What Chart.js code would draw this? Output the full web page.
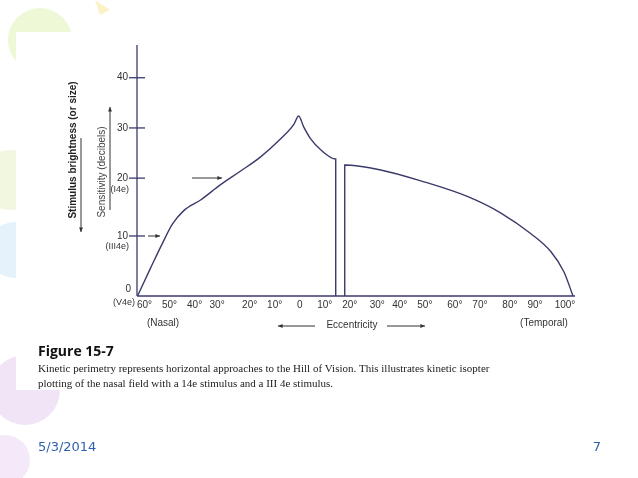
<!DOCTYPE html>
<html><head><meta charset="utf-8">
<script src="https://cdn.jsdelivr.net/npm/chart.js@4"></script>
<style>html,body{margin:0;padding:0;background:#fff}#c{display:block}</style>
</head><body>
<canvas id="c" width="638" height="478"></canvas>
<script>
const nasalX = [-64.8,-59.6,-54.8,-50.8,-46.4,-39.6,-31.6,-23.6,-15.6,-7.6,-2.4,-0.4,1.6,4.4,8.4,14.4,14.4];
const nasalY = [0,5.1,9.7,13.2,15.6,17.6,20.4,22.9,25.5,28.8,31.4,33.0,31.0,28.8,26.8,25.1,0];
const tempX = [18,18,32.4,48.4,67.2,80.4,92.4,100.4,105.6,109.2];
const tempY = [0,24,23.1,21.1,18.2,15.2,11.4,8.1,4.4,0];
const xTickPos = [-62,-52,-42,-33,-20,-10,0,10,20,31,40,50,62,72,84,94,106];
const xTickLabels = ['60°','50°','40°','30°','20°','10°','0','10°','20°','30°','40°','50°','60°','70°','80°','90°','100°'];
const yTickPos = [0,11,21.6,30.8,40];
const yTickLabels = ['0','10','20','30','40'];
const yTickSub = ['(V4e)','(III4e)','(I4e)','',''];

const ink = '#3a3a6a';
const deco = {
  id:'deco',
  beforeDraw(c){
    const g=c.ctx; g.save();
    g.fillStyle='#fff'; g.fillRect(0,0,638,478);
    const blob=(x,y,r,col)=>{g.beginPath();g.arc(x,y,r,0,Math.PI*2);g.fillStyle=col;g.fill();};
    blob(40,40,32,'#eef7d6'); blob(10,180,30,'#f2f8df'); blob(15,250,28,'#e6f2fb');
    blob(25,390,35,'#f1e4f7'); blob(5,460,25,'#f3e9f8');
    g.fillStyle='#fbf3c8'; g.beginPath();g.moveTo(95,0);g.lineTo(110,10);g.lineTo(100,15);g.fill();
    g.fillStyle='#fff'; g.fillRect(16,32,622,358);
    g.restore();
  },
  afterDraw(c){
    const g=c.ctx, x=c.scales.x, y=c.scales.y; g.save();
    const x0=x.getPixelForValue(-65), y0=y.getPixelForValue(0);
    g.strokeStyle=ink; g.lineWidth=1.3;
    g.beginPath(); g.moveTo(x0,y0); g.lineTo(x0,y.getPixelForValue(46)); g.stroke();
    g.beginPath(); g.moveTo(x0,y0); g.lineTo(x.getPixelForValue(110),y0); g.stroke();
    g.font='10px "Liberation Sans", Arial'; g.fillStyle='#333';
    yTickPos.forEach((v,i)=>{const py=y.getPixelForValue(v);
      if(i>0){g.beginPath();g.moveTo(x0-8,py);g.lineTo(x0+8,py);g.stroke();}
      g.textAlign='right'; g.textBaseline='middle'; g.fillText(yTickLabels[i],x0-(i==0?6:9),py-(i==0?7:0));
      if(yTickSub[i]){g.font='9px "Liberation Sans", Arial';g.fillText(yTickSub[i],x0-(i==0?2:8),py+(i==0?7:11));g.font='10px "Liberation Sans", Arial';}
    });
    g.textAlign='center'; g.textBaseline='top';
    xTickPos.forEach((v,i)=>g.fillText(xTickLabels[i],x.getPixelForValue(v),y0+4));
    g.fillText('(Nasal)',163,318); g.fillText('(Temporal)',544,318);
    g.fillText('Eccentricity',352,320);
    const arr=(xa,ya,xb,yb)=>{g.beginPath();g.moveTo(xa,ya);g.lineTo(xb,yb);g.stroke();
      const a=Math.atan2(yb-ya,xb-xa);g.beginPath();g.moveTo(xb,yb);g.lineTo(xb-5*Math.cos(a-0.4),yb-5*Math.sin(a-0.4));g.lineTo(xb-5*Math.cos(a+0.4),yb-5*Math.sin(a+0.4));g.closePath();g.fillStyle='#333';g.fill();};
    g.strokeStyle='#333'; g.lineWidth=1;
    arr(315,326,278,326); arr(387,326,425,326);
    arr(192,178,222,178); arr(148,236,160,236);
    arr(81,138,81,232); arr(110,210,110,107);
    g.save(); g.translate(73,150); g.rotate(-Math.PI/2); g.textAlign='center'; g.textBaseline='middle';
    g.font='bold 10px "Liberation Sans", Arial'; g.fillStyle='#222'; g.fillText('Stimulus brightness (or size)',0,0); g.restore();
    g.save(); g.translate(102,172); g.rotate(-Math.PI/2); g.textAlign='center'; g.textBaseline='middle';
    g.font='10px "Liberation Sans", Arial'; g.fillStyle='#444'; g.fillText('Sensitivity (decibels)',0,0); g.restore();
    g.textAlign='left'; g.textBaseline='alphabetic';
    g.font='bold 14px "Open Sans", "DejaVu Sans"'; g.fillStyle='#111'; g.fillText('Figure 15-7',38,356);
    g.font='11px "Liberation Serif", serif'; g.fillStyle='#222';
    g.fillText('Kinetic perimetry represents horizontal approaches to the Hill of Vision. This illustrates kinetic isopter',38,372);
    g.fillText('plotting of the nasal field with a 14e stimulus and a III 4e stimulus.',38,387);
    g.font='13px "DejaVu Sans", Verdana'; g.fillStyle='#2f5fae';
    g.fillText('5/3/2014',38,451); g.textAlign='right'; g.fillText('7',601,451);
    g.restore();
  }
};
new Chart(document.getElementById('c'),{
  type:'scatter',
  data:{datasets:[
    {data:nasalX.map((v,i)=>({x:v,y:nasalY[i]})),showLine:true,cubicInterpolationMode:'monotone',borderColor:ink,borderWidth:1.4,pointRadius:0},
    {data:tempX.map((v,i)=>({x:v,y:tempY[i]})),showLine:true,cubicInterpolationMode:'monotone',borderColor:ink,borderWidth:1.4,pointRadius:0}
  ]},
  options:{responsive:false,animation:false,
    layout:{padding:{left:137,right:63,top:45,bottom:182}},
    plugins:{legend:{display:false},tooltip:{enabled:false}},
    scales:{
      x:{type:'linear',min:-65,max:110,ticks:{display:false},grid:{display:false,drawTicks:false},border:{display:false}},
      y:{type:'linear',min:0,max:46,ticks:{display:false},grid:{display:false,drawTicks:false},border:{display:false}}
    }},
  plugins:[deco]
});
</script>
</body></html>
